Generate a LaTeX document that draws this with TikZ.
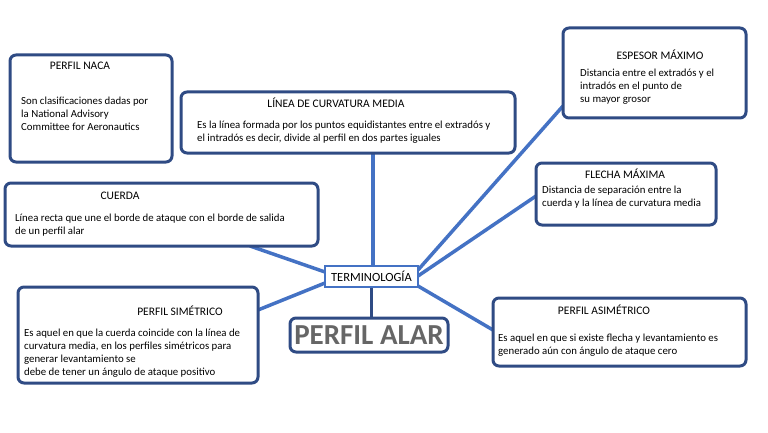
\documentclass[tikz,border=0pt]{standalone}
\usepackage{fontspec}
\setmainfont{Carlito}
\usetikzlibrary{positioning}
\definecolor{navy}{HTML}{2F4B84}
\definecolor{linkblue}{HTML}{4472C4}

\begin{document}
\begin{tikzpicture}[x=1pt, y=-1pt,
  box/.style={draw=navy, line width=3pt, rounded corners=6pt, fill=white},
  link/.style={draw=linkblue, line width=3.5pt},
  head/.style={font=\fontsize{11.5}{13}\selectfont},
  body/.style={font=\fontsize{10.8}{13}\selectfont, align=left, anchor=north west, inner sep=0pt}]
  \useasboundingbox (0,0) rectangle (768,433);

  % branches
  \coordinate (tA) at (418,270);
  \coordinate (tB) at (418,276);
  \coordinate (tC) at (418,286);
  \coordinate (tL) at (325,272);
  \coordinate (tM) at (325,283);
  \draw[link] (373,266) -- (373,153);
  \draw[link] (tA) -- (563,106);
  \draw[link] (tB) -- (536,196);
  \draw[link] (tC) -- (493,330);
  \draw[link] (tL) -- (250,246);
  \draw[link] (tM) -- (258,310);
  \draw[draw=navy, line width=3pt] (371,287) -- (371,318);

  % boxes
  \draw[box] (10,55) rectangle (172,162);
  \draw[box] (181,92) rectangle (515,153);
  \draw[box] (563,28) rectangle (746,118);
  \draw[box] (536,163) rectangle (716,225);
  \draw[box] (5,183) rectangle (318,246);
  \draw[box] (18,287) rectangle (258,383);
  \draw[box] (493,298) rectangle (746,366);
  \node[draw=linkblue, line width=2.5pt, fill=white, minimum width=93pt, minimum height=21pt,
        inner sep=1pt, font=\fontsize{12.5}{13}\selectfont] (term) at (371.5,276.5) {TERMINOLOGÍA};
  \node[draw=navy, line width=3pt, rounded corners=6pt, fill=white, minimum width=158pt, minimum height=34pt,
        inner sep=1pt, font=\bfseries\fontsize{29}{30}\selectfont, text=gray!80!black] (alar) at (369,335) {PERFIL ALAR};

  % texts
  \node[head] (naca) at (80,66) {PERFIL NACA};
  \node[body] (nacaT) at (21,97) {Son clasificaciones dadas por\\la National Advisory\\Committee for Aeronautics};
  \node[head] (curv) at (336,103) {LÍNEA DE CURVATURA MEDIA};
  \node[body] (curvT) at (197,121) {Es la línea formada por los puntos equidistantes entre el extradós y\\el intradós es decir, divide al perfil en dos partes iguales};
  \node[head] (esp) at (660,55) {ESPESOR MÁXIMO};
  \node[body] (espT) at (580,69) {Distancia entre el extradós y el\\intradós en el punto de\\su mayor grosor};
  \node[head] (fle) at (625,174) {FLECHA MÁXIMA};
  \node[body] (fleT) at (542,186) {Distancia de separación entre la\\cuerda y la línea de curvatura media};
  \node[head] (cue) at (120,196) {CUERDA};
  \node[body] (cueT) at (15,214) {Línea recta que une el borde de ataque con el borde de salida\\de un perfil alar};
  \node[head] (sim) at (180,311) {PERFIL SIMÉTRICO};
  \node[body] (simT) at (24,329) {Es aquel en que la cuerda coincide con la línea de\\curvatura media, en los perfiles simétricos para\\generar levantamiento se\\debe de tener un ángulo de ataque positivo};
  \node[head] (asim) at (604,310) {PERFIL ASIMÉTRICO};
  \node[body] (asimT) at (498,334) {Es aquel en que si existe flecha y levantamiento es\\generado aún con ángulo de ataque cero};
\end{tikzpicture}
\end{document}
